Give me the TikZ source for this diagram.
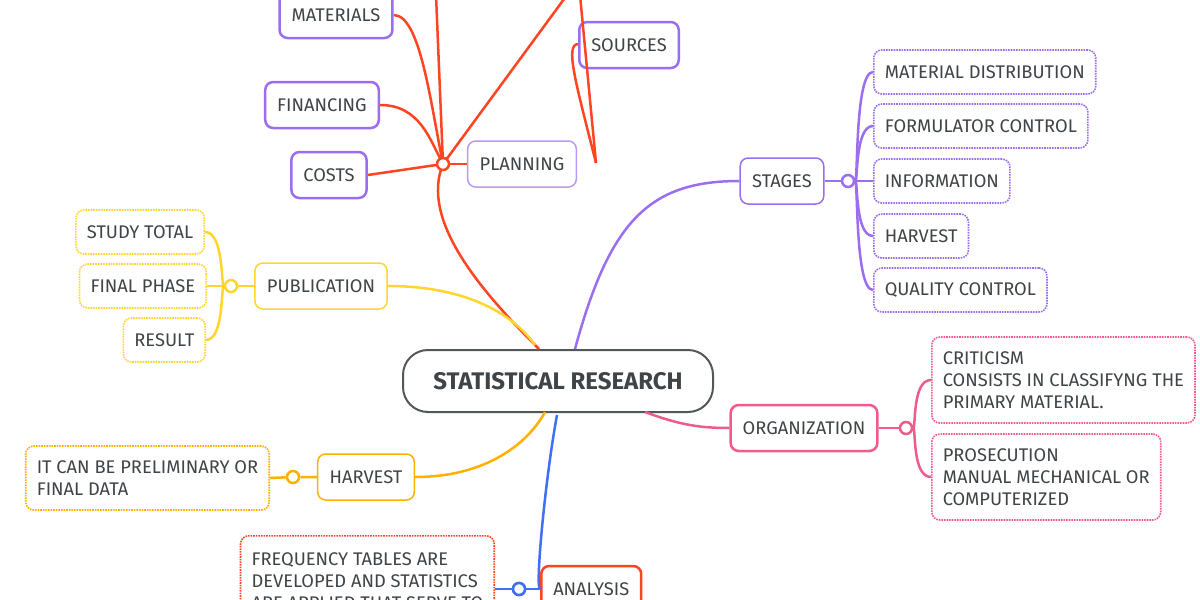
\documentclass[tikz,border=0pt]{standalone}
\usepackage{fontspec}
\setmainfont{Fira Sans}
\usetikzlibrary{positioning}
\definecolor{txt}{HTML}{3F4448}
\definecolor{purp}{HTML}{9B6EF0}
\definecolor{redo}{HTML}{FF4422}
\definecolor{yel}{HTML}{FFD52E}
\definecolor{ora}{HTML}{FFB000}
\definecolor{pink}{HTML}{F05A8C}
\definecolor{blu}{HTML}{3F6FF5}
\tikzset{
  topic/.style={draw=#1, line width=2.5pt, rounded corners=8pt, minimum height=46pt, inner xsep=12pt, fill=white, text=txt},
  subtopic/.style={draw=#1, line width=1.5pt, rounded corners=8pt, minimum height=46pt, inner xsep=12pt, fill=white, text=txt},
  leaf/.style={draw=#1, line width=1.6pt, densely dotted, rounded corners=8pt, minimum height=42pt, inner xsep=11pt, fill=white, text=txt, align=left},
  link/.style={draw=#1, line width=2.5pt},
  joint/.style={circle, draw=#1, line width=2.5pt, fill=white, inner sep=0pt, minimum size=12pt},
}
\begin{document}
\begin{tikzpicture}[x=1pt,y=-1pt,font=\fontsize{18.3}{22}\selectfont]
\useasboundingbox (0,0) rectangle (1200,600);

% centre
\node[draw=txt!90, line width=2pt, rounded corners=25pt, minimum width=310pt, minimum height=62pt, text=txt, font=\fontsize{24}{26}\selectfont\bfseries] (root) at (558,381) {STATISTICAL RESEARCH};

% planning branch
\coordinate (pj) at (443,164);
\node[subtopic=purp!70] (planning) at (522,164) {PLANNING};
\node[topic=purp] (materials) at (336,15) {MATERIALS};
\node[topic=purp] (financing) at (322,105) {FINANCING};
\node[topic=purp] (costs) at (329,175) {COSTS};
\draw[link=redo] (root.north west) ++(137,0) .. controls (480,290) and (420,220) .. (pj);
\draw[link=redo] (pj) -- (planning.west);
\draw[link=redo] (costs.east) -- (pj);
\draw[link=redo] (financing.east) .. controls (420,105) and (430,140) .. (pj);
\draw[link=redo] (materials.east) .. controls (420,15) and (430,100) .. (pj);
\draw[link=redo] (pj) -- (436,-5);
\draw[link=redo] (pj) -- (567,-5);
\node[topic=purp] (sources) at (629,45) {SOURCES};
\coordinate (loose) at (596,163);
\draw[link=redo] (580,-5) -- (loose);
\draw[link=redo] (loose) .. controls (575,80) and (565,45) .. (578,44);
\node[joint=redo] (pjc) at (pj) {};

% stages branch
\node[subtopic=purp] (stages) at (782,181) {STAGES};
\node[joint=purp] (sj) at (848,181) {};
\draw[link=purp] (575,349) .. controls (610,220) and (650,181) .. (stages.west);
\draw[link=purp] (stages.east) -- (sj);
\foreach \t/\y [count=\i] in {MATERIAL DISTRIBUTION/72, FORMULATOR CONTROL/126, INFORMATION/181, HARVEST/236, QUALITY CONTROL/290}{
  \node[leaf=purp, anchor=west, minimum height=44pt] (stage\i) at (873,\y) {\t};
  \draw[link=purp] (sj) .. controls (858,181) and (855,\y) .. (stage\i.west);
}

% publication branch
\node[subtopic=yel] (publication) at (321,286) {PUBLICATION};
\node[joint=yel] (pubj) at (231,286) {};
\draw[link=yel] (publication.east) .. controls (460,286) and (510,310) .. (535,345);
\draw[link=yel] (publication.west) -- (pubj);
\foreach \t/\y/\x [count=\i] in {STUDY TOTAL/232/205, FINAL PHASE/286/207, RESULT/340/206}{
  \node[leaf=yel, anchor=east, minimum height=44pt] (pub\i) at (\x,\y) {\t};
  \draw[link=yel] (pubj) .. controls (221,286) and (224,\y) .. (pub\i.east);
}

% organization branch
\node[topic=pink] (organization) at (804,428) {ORGANIZATION};
\node[joint=pink] (oj) at (906,428) {};
\draw[link=pink] (645,412) .. controls (680,425) and (700,428) .. (organization.west);
\draw[link=pink] (organization.east) -- (oj);
\node[leaf=pink, anchor=west, minimum height=86pt] (crit) at (931,380) {CRITICISM\\CONSISTS IN CLASSIFYNG THE\\PRIMARY MATERIAL.};
\node[leaf=pink, anchor=west, minimum height=86pt] (pros) at (931,477) {PROSECUTION\\MANUAL MECHANICAL OR\\COMPUTERIZED};
\draw[link=pink] (oj) .. controls (916,428) and (912,380) .. (crit.west);
\draw[link=pink] (oj) .. controls (916,428) and (912,477) .. (pros.west);

% harvest branch
\node[subtopic=ora] (harvest) at (366,477) {HARVEST};
\node[joint=ora] (hj) at (293,477) {};
\node[leaf=ora, anchor=east, minimum height=64pt] (prelim) at (270,478) {IT CAN BE PRELIMINARY OR\\FINAL DATA};
\draw[link=ora] (harvest.east) .. controls (490,477) and (530,440) .. (545,412);
\draw[link=ora] (harvest.west) -- (hj) -- (prelim.east);

% analysis branch
\node[topic=redo, anchor=west] (analysis) at (540,589) {ANALYSIS};
\node[joint=blu] (aj) at (519,589) {};
\node[leaf=redo, anchor=north east, minimum height=90pt] (freq) at (495,535) {FREQUENCY TABLES ARE\\DEVELOPED AND STATISTICS\\ARE APPLIED THAT SERVE TO};
\draw[link=blu] (557,415) .. controls (545,480) and (535,589) .. (analysis.west);
\draw[link=blu] (analysis.west) -- (aj) -- (freq.east |- aj);
\node[joint=blu] at (aj) {};
\end{tikzpicture}
\end{document}
